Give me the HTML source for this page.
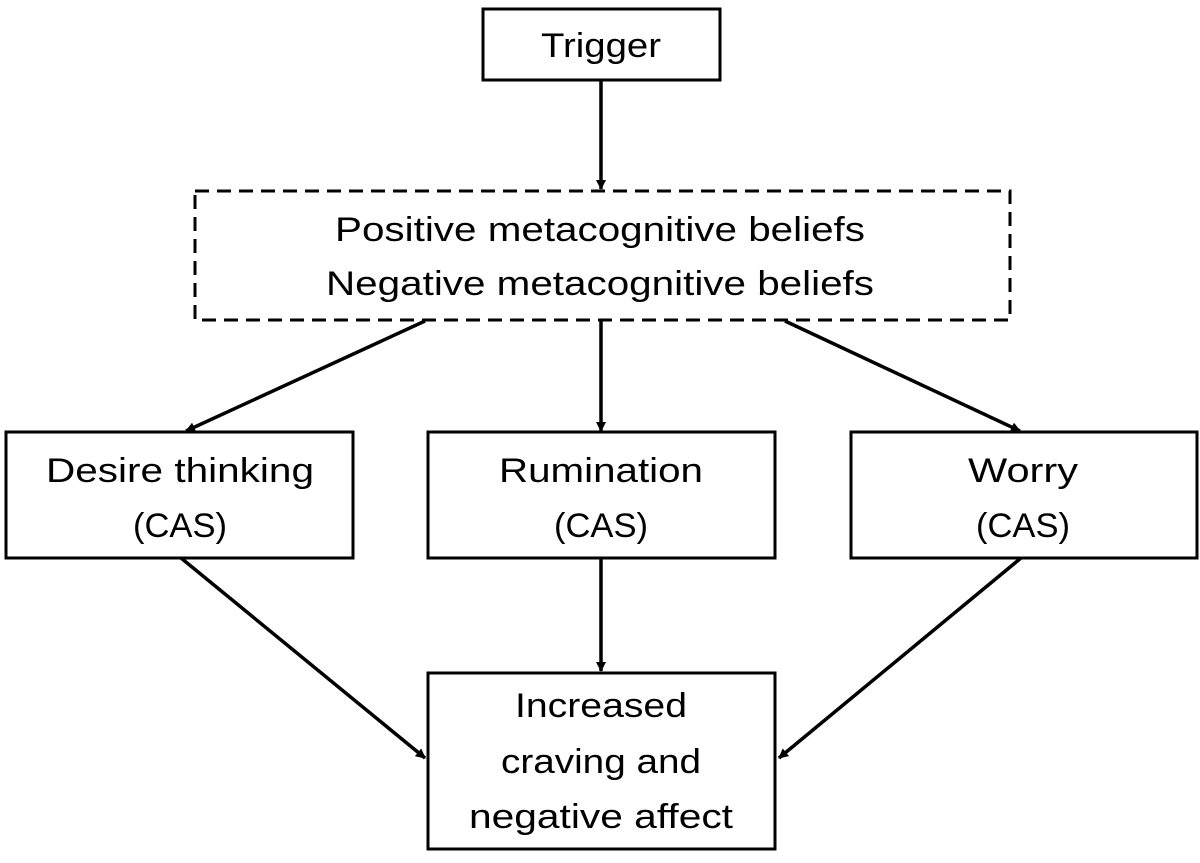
<!DOCTYPE html>
<html><head><style>html,body{margin:0;padding:0;background:#fff}</style></head>
<body>
<svg width="1200" height="858" viewBox="0 0 1200 858" xmlns="http://www.w3.org/2000/svg" font-family="Liberation Sans, sans-serif" font-size="34" fill="#000">
<defs>
<marker id="a" markerWidth="10" markerHeight="10" refX="9" refY="5" orient="auto" markerUnits="userSpaceOnUse" viewBox="0 0 10 10">
<path d="M0,0 L10,5 L0,10 z" fill="#000"/></marker>
</defs>
<g fill="none" stroke="#000" stroke-width="3">
<rect x="483" y="9" width="237" height="71"/>
<rect x="195" y="191" width="815" height="129" stroke-dasharray="14,8"/>
<rect x="6" y="432" width="347" height="126"/>
<rect x="428" y="432" width="347" height="126"/>
<rect x="851" y="432" width="346" height="126"/>
<rect x="428" y="673" width="347" height="176"/>
</g>
<g stroke="#000" stroke-width="3.5" fill="none">
<line x1="601" y1="80" x2="601" y2="189" marker-end="url(#a)"/>
<line x1="425" y1="321" x2="186" y2="431" marker-end="url(#a)"/>
<line x1="601" y1="321" x2="601" y2="431" marker-end="url(#a)"/>
<line x1="785" y1="321" x2="1020" y2="431" marker-end="url(#a)"/>
<line x1="181" y1="558" x2="425" y2="758" marker-end="url(#a)"/>
<line x1="601" y1="558" x2="601" y2="671" marker-end="url(#a)"/>
<line x1="1021" y1="558" x2="779" y2="758" marker-end="url(#a)"/>
</g>
<g text-anchor="middle" stroke="none">
<text x="601" y="57" textLength="120" lengthAdjust="spacingAndGlyphs">Trigger</text>
<text x="600" y="241" textLength="530" lengthAdjust="spacingAndGlyphs">Positive metacognitive beliefs</text>
<text x="600" y="295" textLength="548" lengthAdjust="spacingAndGlyphs">Negative metacognitive beliefs</text>
<text x="180" y="482" textLength="268" lengthAdjust="spacingAndGlyphs">Desire thinking</text>
<text x="180" y="537" textLength="94" lengthAdjust="spacingAndGlyphs">(CAS)</text>
<text x="601" y="482" textLength="204" lengthAdjust="spacingAndGlyphs">Rumination</text>
<text x="601" y="537" textLength="94" lengthAdjust="spacingAndGlyphs">(CAS)</text>
<text x="1023" y="482" textLength="110" lengthAdjust="spacingAndGlyphs">Worry</text>
<text x="1023" y="537" textLength="94" lengthAdjust="spacingAndGlyphs">(CAS)</text>
<text x="601" y="717" textLength="172" lengthAdjust="spacingAndGlyphs">Increased</text>
<text x="601" y="773" textLength="200" lengthAdjust="spacingAndGlyphs">craving and</text>
<text x="601" y="828" textLength="264" lengthAdjust="spacingAndGlyphs">negative affect</text>
</g>
</svg>
</body></html>
